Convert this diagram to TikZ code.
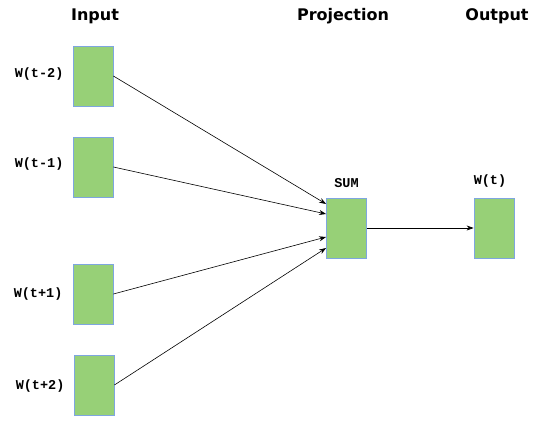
\documentclass[tikz,border=0pt]{standalone}
\usepackage{fontspec}
\setmainfont{DejaVu Sans}
\newfontfamily\lblfont{Liberation Mono}
\usetikzlibrary{positioning,arrows.meta}
\definecolor{boxgreen}{HTML}{97D077}
\definecolor{boxblue}{HTML}{7EA6E0}

\begin{document}
\begin{tikzpicture}[x=1pt, y=-1pt,
       box/.style = {draw=boxblue, fill=boxgreen, line width=0.8pt, minimum width=40pt, minimum height=60pt, inner sep=0pt},
       lbl/.style = {font=\lblfont\bfseries\fontsize{13.5}{14}\selectfont, inner sep=0pt},
       title/.style = {font=\bfseries\fontsize{16}{17}\selectfont, inner sep=0pt},
       link/.style = {-{Stealth[length=7pt, width=5pt]}, line width=0.6pt}]
       \useasboundingbox (0,0) rectangle (558,430);
       % titles
       \node [title] (tin) at (95,16) {Input};
       \node [title] (tproj) at (343,16) {Projection};
       \node [title] (tout) at (497,16) {Output};
       % input words
       \node [box] (in1) at (93,76) {};
       \node [box] (in2) at (93,167) {};
       \node [box] (in3) at (93,294) {};
       \node [box] (in4) at (94,385) {};
       \node [lbl, left=9pt of in1, yshift=2pt] (l1) {W(t-2)};
       \node [lbl, left=9pt of in2, yshift=3pt] (l2) {W(t-1)};
       \node [lbl, left=10pt of in3] (l3) {W(t+1)};
       \node [lbl, left=9pt of in4, yshift=-1pt] (l4) {W(t+2)};
       % projection and output
       \node [box] (sum) at (346.5,228) {};
       \node [box] (out) at (494,228) {};
       \node [lbl, above=10pt of sum] (lsum) {SUM};
       \node [lbl, above=10pt of out, xshift=-4pt] (lout) {W(t)};
       % connections
       \draw [link] (in1.east) -- ([yshift=24pt]sum.west);
       \draw [link] (in2.east) -- ([yshift=14pt]sum.west);
       \draw [link] (in3.east) -- ([yshift=-9pt]sum.west);
       \draw [link] (in4.east) -- ([yshift=-20pt]sum.west);
       \draw [link] (sum.east) -- (out.west);
\end{tikzpicture}
\end{document}
